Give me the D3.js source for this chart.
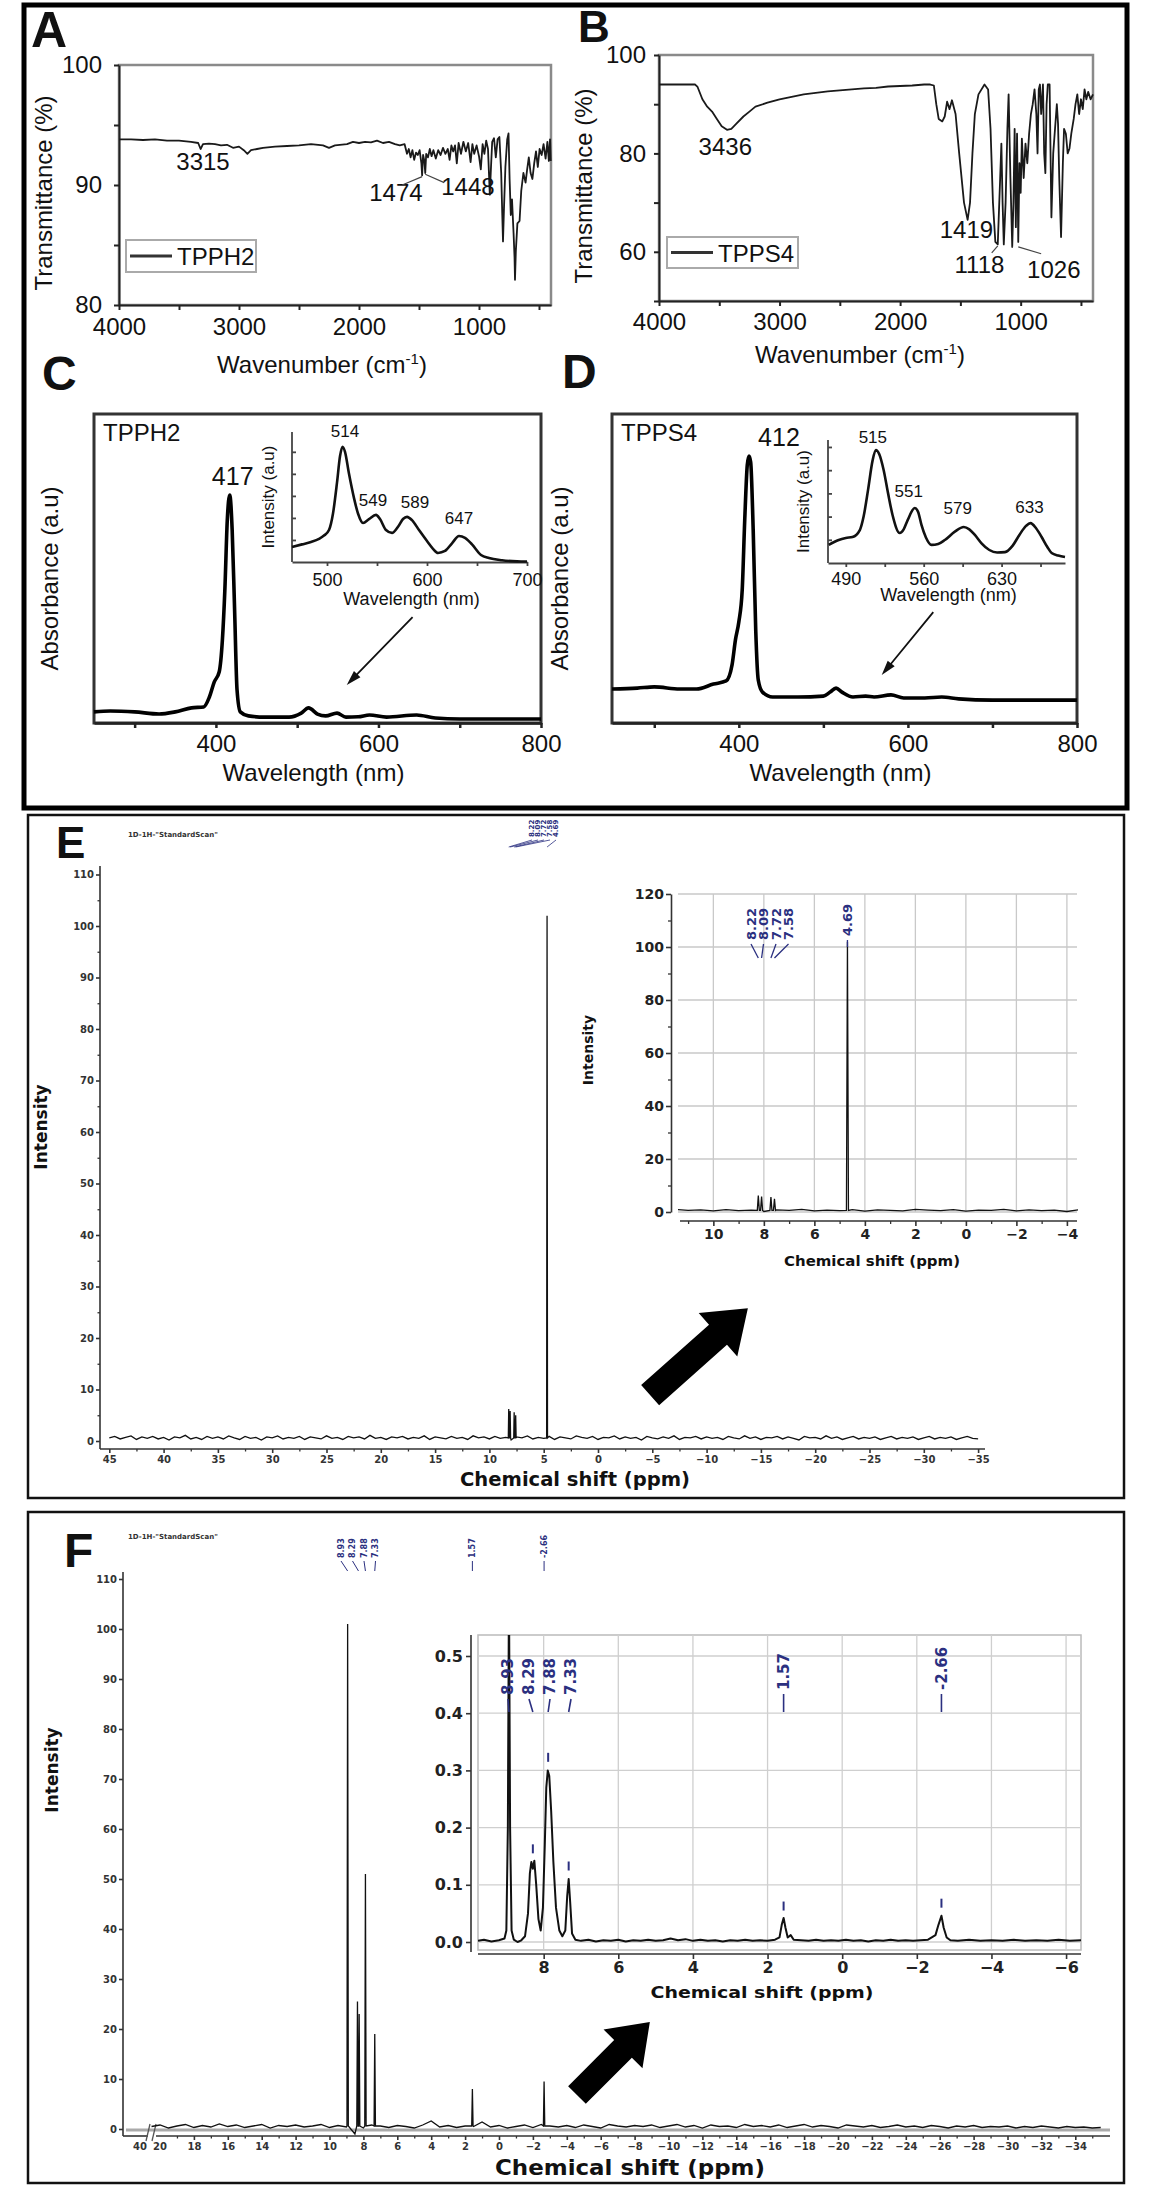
<!DOCTYPE html>
<html>
<head>
<meta charset="utf-8">
<script src="https://cdn.jsdelivr.net/npm/d3@7/dist/d3.min.js"></script>
<style>
  body { margin: 0; background: #fff; }
  svg { display: block; }
</style>
</head>
<body>
<svg id="fig" width="1149" height="2187"></svg>
<script>
// ---------- values ----------
// A: FTIR of TPPH2  [wavenumber, %T]
const irA = [
  [4000,93.8],[3900,93.8],[3800,93.75],[3700,93.8],[3600,93.7],[3500,93.7],[3400,93.6],[3340,93.5],[3320,93.0],
  [3300,93.4],[3250,93.45],[3200,93.4],[3150,93.3],[3100,93.35],[3050,93.1],[3000,93.2],[2960,92.9],[2930,92.6],
  [2900,92.9],[2850,93.0],[2800,93.1],[2700,93.2],[2600,93.25],[2500,93.3],[2400,93.4],[2300,93.3],[2250,93.1],
  [2200,93.3],[2100,93.4],[2050,93.6],[2000,93.5],[1950,93.6],[1900,93.55],[1850,93.7],[1800,93.5],[1750,93.6],
  [1700,93.4],[1660,93.3],[1620,93.4],[1600,92.6],[1585,93.0],[1570,92.3],[1555,92.9],[1540,92.1],[1525,92.7],
  [1510,92.5],[1495,92.9],[1480,91.8],[1474,90.8],[1466,92.5],[1455,92.0],[1448,91.0],[1440,92.6],[1425,92.3],
  [1410,93.0],[1395,92.4],[1380,92.9],[1360,92.2],[1340,92.9],[1320,92.5],[1300,93.1],[1280,92.6],[1260,93.0],
  [1245,92.1],[1230,93.3],[1215,92.8],[1200,93.3],[1185,91.8],[1170,93.5],[1150,92.6],[1130,93.6],[1110,92.8],
  [1090,93.5],[1070,91.9],[1055,93.4],[1040,92.6],[1020,93.3],[1000,92.4],[985,91.3],[970,93.4],[955,92.6],
  [940,93.7],[925,93.0],[910,89.2],[900,91.5],[890,93.6],[875,93.9],[860,92.3],[845,93.8],[830,94.0],[815,91.0],
  [806,87.5],[800,85.3],[792,88.0],[780,91.5],[765,93.8],[754,94.3],[745,90.5],[735,87.5],[725,88.8],[712,86.0],
  [704,84.0],[700,82.1],[693,84.5],[680,86.8],[662,87.0],[648,89.5],[630,91.0],[612,90.2],[600,91.2],[585,92.3],
  [570,91.0],[555,90.5],[540,91.8],[525,92.8],[510,91.5],[495,93.0],[478,92.5],[462,93.4],[445,92.2],[430,93.6],
  [418,92.0],[408,93.8],[402,92.0]
];
// B: FTIR of TPPS4  [wavenumber, %T]
const irB = [
  [4000,94],[3900,94],[3800,94],[3700,94],[3680,93.5],[3640,91],[3600,89.5],[3560,88.5],[3520,87],[3480,85.5],
  [3436,84.8],[3400,85],[3360,86],[3300,87.5],[3250,88.5],[3200,89.5],[3100,90.3],[3000,91],[2900,91.5],
  [2800,92],[2700,92.3],[2600,92.6],[2500,92.8],[2400,93],[2300,93.2],[2200,93.3],[2100,93.6],[2000,93.7],
  [1900,93.8],[1800,94],[1750,94],[1720,93.8],[1700,90],[1680,87],[1650,86.5],[1630,87.5],[1610,90.5],
  [1590,89],[1570,90.8],[1540,88],[1510,80],[1470,70],[1440,66.5],[1420,70],[1400,80],[1380,88],[1350,92],
  [1300,94],[1270,93],[1250,85],[1230,70],[1210,62],[1190,61.5],[1170,75],[1160,82],[1150,70],[1140,61.5],
  [1125,70],[1110,85],[1100,92],[1085,75],[1070,61],[1060,70],[1050,85],[1040,65],[1030,84],[1020,62],
  [1010,78],[1000,72],[990,83],[975,75],[960,82],[945,78],[930,84],[915,88],[900,90],[885,93],[870,88],
  [860,80],[850,93],[840,94],[830,88],[815,94],[805,80],[795,76],[785,90],[775,94],[760,94],[745,67],
  [730,80],[715,85],[700,90],[690,86],[680,75],[665,63],[650,78],[640,85],[625,84],[610,80],[595,81],
  [580,84],[560,87],[545,90],[530,92],[515,88],[500,91],[485,89],[470,93],[455,91],[440,92.5],[420,91],[400,92]
];
const irTicks = [4000,3500,3000,2500,2000,1500,1000,500];
const irTickLabels = [4000,3000,2000,1000];
const irAyTicks = [80,85,90,95,100], irAyLabels = [80,90,100];
const irByTicks = [50,60,70,80,90,100], irByLabels = [60,80,100];
const irApeaks = [["3315",3300,91.9],["1474",1692,89.3],["1448",1092,89.8]];
const irBpeaks = [["3436",3450,81.3],["1419",1450,64.5],["1118",1342,57.4],["1026",725,56.3]];

// C, D: UV-vis absorbance [nm, a.u.]
const uvC = [
  [250,0.036],[270,0.039],[300,0.036],[330,0.029],[350,0.036],[370,0.049],[385,0.052],[392,0.084],[398,0.133],
  [404,0.165],[408,0.27],[411,0.43],[414,0.657],[417,0.738],[420,0.625],[423,0.366],[426,0.107],[430,0.036],
  [440,0.023],[460,0.019],[490,0.019],[505,0.032],[514,0.049],[525,0.029],[535,0.023],[549,0.032],[560,0.019],
  [575,0.02],[589,0.026],[610,0.019],[647,0.026],[670,0.016],[700,0.013],[800,0.013]
];
const uvD = [
  [250,0.110],[280,0.113],[300,0.117],[330,0.110],[350,0.110],[370,0.126],[385,0.136],[392,0.188],[396,0.269],
  [400,0.327],[404,0.43],[407,0.657],[410,0.835],[412,0.864],[414,0.845],[417,0.625],[420,0.301],[423,0.139],
  [428,0.10],[440,0.084],[470,0.084],[500,0.087],[508,0.1],[515,0.113],[522,0.1],[535,0.084],[550,0.087],
  [560,0.084],[580,0.091],[595,0.081],[620,0.081],[640,0.084],[660,0.078],[700,0.074],[800,0.074]
];
const uvTicks = [300,400,500,600,700,800], uvTickLabels = [400,600,800];
// C, D insets: Q-band intensity [nm, a.u.]
const flC = [
  [465,0.68],[475,0.8],[484,0.91],[492,1.05],[497,1.2],[502,1.45],[506,2.2],[510,3.6],[513,4.8],[515.5,5.23],
  [518,5.0],[522,4.0],[527,2.9],[531,2.2],[536,1.77],[542,1.95],[549,2.14],[553,1.95],[559,1.45],[565,1.32],
  [571,1.6],[576,1.95],[580,2.05],[585,1.9],[592,1.45],[600,0.95],[606,0.6],[611,0.41],[618,0.5],[625,0.85],
  [632,1.18],[638,1.1],[645,0.8],[654,0.32],[662,0.18],[675,0.08],[690,0.03],[700,0.02]
];
const flD = [
  [474.7,0.78],[483,0.98],[490,1.08],[496,1.12],[502.6,1.42],[506,2.0],[510,3.15],[514,4.4],[517,4.87],
  [520,4.7],[524,4.01],[528,3.0],[532,2.07],[538.5,1.29],[542,1.45],[545.6,1.85],[552,2.37],[555,2.2],
  [558,1.64],[562,1.1],[567,0.78],[573,0.82],[579,0.99],[588,1.35],[596,1.55],[601,1.45],[606,1.21],
  [612,0.85],[619,0.56],[626,0.45],[633,0.47],[640,0.75],[646,1.21],[652,1.6],[656,1.72],[661,1.5],
  [666,1.12],[671,0.7],[675,0.43],[681,0.32],[687,0.26]
];
const flCTicks = [500,550,600,650,700], flCLabels = [500,600,700];
const flDTicks = [490,525,560,595,630,665], flDLabels = [490,560,630];
const flCYTicks = [1,2,3,4,5], flDYTicks = [1,2,3,4,5];
const flCpeaks = [["514",516,5.23],["549",550,2.14],["589",580,2.05],["647",632,1.18]];
const flDpeaks = [["515",517,4.87],["551",552,2.37],["579",596,1.55],["633",656,1.72]];

// E: 1H NMR of TPPH2 - baseline noise every 0.5 ppm from 45 ppm, and sharp peaks [ppm, intensity]
const nmrEnoise = [
  0.6,0.9,0.4,0.7,1.0,0.3,0.8,0.5,0.9,0.4, 0.7,0.2,0.8,0.6,1.1,0.4,0.7,0.3,0.9,0.5,
  0.8,0.4,1.0,0.6,0.3,0.9,0.5,0.7,0.2,0.8, 0.6,1.0,0.4,0.7,0.5,0.9,0.3,0.8,0.6,0.4,
  1.0,0.5,0.7,0.3,0.9,0.6,0.8,0.4,1.1,0.5, 0.7,0.3,0.8,0.6,0.9,0.4,0.7,0.5,1.0,0.3,
  0.8,0.6,0.4,0.9,0.5,0.7,0.3,1.0,0.6,0.8, 0.4,0.9,0.5,0.7,0.2,0.8,0.6,1.0,0.4,0.7,
  0.5,0.9,0.3,0.8,0.6,0.4,1.0,0.7,0.5,0.9, 0.3,0.7,0.6,1.0,0.4,0.8,0.5,0.7,0.2,0.9,
  0.6,0.4,0.8,0.5,1.0,0.3,0.7,0.6,0.9,0.4, 0.8,0.5,0.7,0.3,0.9,0.6,0.4,1.0,0.5,0.8,
  0.3,0.7,0.6,0.9,0.4,0.8,0.5,0.2,0.9,0.6, 0.7,0.4,1.0,0.5,0.8,0.3,0.6,0.9,0.4,0.7,
  0.5,0.8,0.3,0.6,0.9,0.4,0.7,0.5,0.8,0.3, 0.6,0.9,0.4,0.7,0.5,0.8,0.3,0.6,0.9,0.5,
  0.4
];
const nmrEpeaks = [[8.22,6.2],[8.09,5.8],[7.72,5.6],[7.58,5.0],[4.69,102]];
const eLabels = ["8.22","8.09","7.72","7.58"], eSingle = ["4.69"];
const eXLabels = [45,40,35,30,25,20,15,10,5,0,-5,-10,-15,-20,-25,-30,-35];
const eXMinor = [42.5,37.5,32.5,27.5,22.5,17.5,12.5,7.5,2.5,-2.5,-7.5,-12.5,-17.5,-22.5,-27.5,-32.5];
const eYLabels = [0,10,20,30,40,50,60,70,80,90,100,110];
const eYMinor = [5,15,25,35,45,55,65,75,85,95,105];
const eInXLabels = [10,8,6,4,2,0,-2,-4], eInXMinor = [11,9,7,5,3,1,-1,-3];
const eInYLabels = [0,20,40,60,80,100,120], eInYMinor = [10,30,50,70,90,110];

// F: 1H NMR of TPPS4 - baseline noise every 0.5 ppm from 20.5 ppm, and peaks [ppm, intensity]
const nmrFnoise = [
  0.5,0.8,0.2,0.6,0.9,0.3,0.7,0.4,1.0,0.5, 0.8,0.3,0.6,0.9,0.2,0.7,0.5,0.8,0.4,0.6,
  0.9,0.3,0.7,0.4,-1.0,0.2,0.8,0.6,0.3,0.7, 0.5,0.2,0.8,1.6,0.4,0.7,0.3,0.6,0.5,1.4,
  0.4,0.7,0.2,0.5,0.8,0.3,0.9,0.6,0.4,0.7, 0.3,0.8,0.5,0.2,0.9,0.6,0.4,0.7,0.5,0.8,
  0.3,0.6,0.9,0.4,0.7,0.2,0.8,0.5,0.6,0.3, 0.9,0.5,0.7,0.4,0.8,0.3,0.6,0.9,0.4,0.7,
  0.5,0.2,0.8,0.6,0.4,0.7,0.3,0.5,0.8,0.4, 0.6,0.3,0.7,0.5,0.2,0.6,0.4,0.7,0.3,0.5,
  0.4,0.6,0.2,0.5,0.3,0.6,0.4,0.2,0.5,0.3, 0.4,0.2,0.3
];
const nmrFpeaks = [[8.93,101],[8.35,25.5],[8.25,23],[7.88,51],[7.33,19],[1.57,8],[-2.66,9.5]];
const fLabels = ["8.93","8.29","7.88","7.33"], fSingles = [["1.57",1.57],["-2.66",-2.66]];
const fXLabels = [18,16,14,12,10,8,6,4,2,0,-2,-4,-6,-8,-10,-12,-14,-16,-18,-20,-22,-24,-26,-28,-30,-32,-34];
const fXMinor = [19,17,15,13,11,9,7,5,3,1,-1,-3,-5,-7,-9,-11,-13,-15,-17,-19,-21,-23,-25,-27,-29,-31,-33,-35];
const fYLabels = [0,10,20,30,40,50,60,70,80,90,100,110];
// F inset, normalised intensity [ppm, value]
const nmrFinset = [
  [9.76,0.002],[9.6,0.004],[9.4,0.001],[9.2,0.003],[9.05,0.006],[9.0,0.02],[8.96,0.2],[8.93,0.62],[8.90,0.2],
  [8.86,0.02],[8.8,0.004],[8.7,0.0],[8.6,0.003],[8.5,0.01],[8.42,0.05],[8.37,0.12],[8.33,0.14],[8.29,0.128],
  [8.25,0.142],[8.2,0.1],[8.14,0.04],[8.08,0.02],[8.02,0.06],[7.97,0.17],[7.93,0.27],[7.89,0.3],[7.85,0.29],
  [7.8,0.23],[7.74,0.14],[7.67,0.06],[7.58,0.02],[7.5,0.01],[7.42,0.02],[7.37,0.08],[7.33,0.11],[7.29,0.07],
  [7.24,0.015],[7.15,0.004],[7.0,0.002],[6.8,0.004],[6.6,0.001],[6.4,0.003],[6.2,0.002],[6.0,0.004],[5.8,0.001],
  [5.6,0.003],[5.4,0.002],[5.2,0.004],[5.0,0.002],[4.8,0.003],[4.6,0.006],[4.4,0.003],[4.2,0.005],[4.0,0.002],
  [3.8,0.004],[3.6,0.002],[3.4,0.003],[3.2,0.001],[3.0,0.003],[2.8,0.002],[2.6,0.004],[2.4,0.002],[2.2,0.003],
  [2.0,0.002],[1.8,0.004],[1.68,0.008],[1.62,0.03],[1.57,0.042],[1.52,0.025],[1.46,0.008],[1.38,0.012],
  [1.3,0.004],[1.1,0.003],[0.9,0.002],[0.7,0.004],[0.5,0.002],[0.3,0.003],[0.1,0.002],[-0.1,0.004],[-0.3,0.002],
  [-0.5,0.003],[-0.7,0.001],[-0.9,0.003],[-1.1,0.002],[-1.3,0.004],[-1.5,0.002],[-1.7,0.003],[-1.9,0.002],
  [-2.1,0.003],[-2.3,0.004],[-2.5,0.012],[-2.58,0.03],[-2.66,0.046],[-2.72,0.025],[-2.8,0.008],[-2.9,0.003],
  [-3.1,0.002],[-3.4,0.004],[-3.7,0.002],[-4.0,0.003],[-4.3,0.002],[-4.6,0.004],[-4.9,0.002],[-5.2,0.003],
  [-5.5,0.002],[-5.8,0.004],[-6.1,0.002],[-6.4,0.003]
];
const fInPicks = [[8.29,0.155],[7.88,0.315],[7.33,0.125],[1.57,0.055],[-2.66,0.06]];
const fInXLabels = [8,6,4,2,0,-2,-4,-6];
const fInYLabels = [0,0.1,0.2,0.3,0.4,0.5];

// ---------- drawing ----------
const svg = d3.select("#fig");
const sans = '"Liberation Sans", Arial, Helvetica, sans-serif';
const nmrFont = '"DejaVu Sans", Verdana, sans-serif';
const navy = "#2b3080";

function label(g, x, y, s, o = {}) {
  const t = g.append("text").attr("x", x).attr("y", y).text(s)
    .attr("font-size", o.size || 24)
    .attr("font-family", o.family || sans)
    .attr("text-anchor", o.anchor || "middle")
    .attr("fill", o.fill || "#111")
    .attr("font-weight", o.weight || "normal");
  if (o.rotate) t.attr("transform", `rotate(${o.rotate},${x},${y})`);
  if (o.len) t.attr("textLength", o.len).attr("lengthAdjust", "spacingAndGlyphs");
  return t;
}

function styleAxis(sel, o = {}) {
  const c = o.color || "#222";
  sel.select(".domain").attr("stroke", c).attr("stroke-width", o.width || 2);
  sel.selectAll(".tick line").attr("stroke", c).attr("stroke-width", o.width || 2);
  sel.selectAll(".tick text").attr("font-size", o.size || 24).attr("font-family", o.family || sans)
    .attr("fill", o.fill || "#111").attr("font-weight", o.weight || "normal");
}

function arrow(g, x1, y1, x2, y2, w, hw, hl, col) {
  const L = Math.hypot(x2 - x1, y2 - y1), ux = (x2 - x1) / L, uy = (y2 - y1) / L;
  const nx = -uy, ny = ux, bx = x2 - ux * hl, by = y2 - uy * hl;
  const pts = [
    [x1 + nx * w / 2, y1 + ny * w / 2], [bx + nx * w / 2, by + ny * w / 2], [bx + nx * hw / 2, by + ny * hw / 2],
    [x2, y2], [bx - nx * hw / 2, by - ny * hw / 2], [bx - nx * w / 2, by - ny * w / 2], [x1 - nx * w / 2, y1 - ny * w / 2]
  ];
  g.append("polygon").attr("points", pts.map(p => p.join(",")).join(" ")).attr("fill", col || "#000");
}

function cmLabel(g, x, y) {
  const t = g.append("text").attr("x", x).attr("y", y).attr("text-anchor", "middle")
    .attr("font-family", sans).attr("font-size", 24).attr("fill", "#111");
  t.append("tspan").text("Wavenumber (cm");
  t.append("tspan").attr("dy", -9).attr("font-size", 15).text("-1");
  t.append("tspan").attr("dy", 9).text(")");
}

// outer frames
svg.append("rect").attr("x", 24).attr("y", 5).attr("width", 1103).attr("height", 803)
  .attr("fill", "none").attr("stroke", "#000").attr("stroke-width", 5);
svg.append("rect").attr("x", 28).attr("y", 815).attr("width", 1096).attr("height", 683)
  .attr("fill", "none").attr("stroke", "#111").attr("stroke-width", 2.5);
svg.append("rect").attr("x", 28).attr("y", 1512).attr("width", 1096).attr("height", 671)
  .attr("fill", "none").attr("stroke", "#111").attr("stroke-width", 2.5);

// ---- A and B: FTIR ----
function irPanel(p) {
  const g = svg.append("g");
  const x = d3.scaleLinear().domain([4000, 400]).range([p.left, p.right]);
  const y = d3.scaleLinear().domain(p.yDomain).range([p.bottom, p.top]);
  g.append("rect").attr("x", p.left).attr("y", p.top).attr("width", p.right - p.left)
    .attr("height", p.bottom - p.top).attr("fill", "none").attr("stroke", "#8a8a8a").attr("stroke-width", 2.5);
  const xa = g.append("g").attr("transform", `translate(0,${p.bottom})`)
    .call(d3.axisBottom(x).tickValues(irTicks).tickSize(5).tickSizeOuter(0).tickPadding(p.xPad)
      .tickFormat(d => irTickLabels.includes(d) ? d : ""));
  styleAxis(xa);
  const ya = g.append("g").attr("transform", `translate(${p.left},0)`)
    .call(d3.axisLeft(y).tickValues(p.yTicks).tickSize(5).tickSizeOuter(0).tickPadding(p.yPad)
      .tickFormat(d => p.yLabels.includes(d) ? d : ""));
  styleAxis(ya);
  g.append("path").datum(p.data).attr("fill", "none").attr("stroke", "#1a1a1a").attr("stroke-width", 1.8)
    .attr("stroke-linejoin", "round")
    .attr("d", d3.line().x(d => x(d[0])).y(d => y(d[1])));
  p.peaks.forEach(([s, wn, v]) => label(g, x(wn), y(v) + 8, s, {size: 24}));
  // legend
  const [lx, ly, lw, lh] = p.legend;
  g.append("rect").attr("x", lx).attr("y", ly).attr("width", lw).attr("height", lh)
    .attr("fill", "#fff").attr("stroke", "#aaa").attr("stroke-width", 2);
  g.append("line").attr("x1", lx + 4).attr("x2", lx + 46).attr("y1", ly + lh / 2).attr("y2", ly + lh / 2)
    .attr("stroke", "#333").attr("stroke-width", 3);
  label(g, lx + 51, ly + lh / 2 + 9, p.name, {anchor: "start", size: 24});
  label(g, p.yLabelX, (p.top + p.bottom) / 2 + 8, "Transmittance (%)", {rotate: -90, size: 24});
  cmLabel(g, p.xLabelX, p.xLabelY);
  return {g, x, y};
}

const A = irPanel({left: 119, right: 551, top: 65, bottom: 305, yDomain: [80, 100], yTicks: irAyTicks,
  yLabels: irAyLabels, data: irA, peaks: irApeaks, legend: [126, 240, 130, 32], name: "TPPH2",
  yLabelX: 52, xLabelX: 322, xLabelY: 373, xPad: 8, yPad: 12});
const B = irPanel({left: 659, right: 1093, top: 55, bottom: 301, yDomain: [50, 100], yTicks: irByTicks,
  yLabels: irByLabels, data: irB, peaks: irBpeaks, legend: [667, 237, 131, 31], name: "TPPS4",
  yLabelX: 592, xLabelX: 860, xLabelY: 363, xPad: 7, yPad: 8});
// leader lines for close peaks
[[A, 1640, 90.0, 1474, 90.7], [A, 1290, 90.2, 1448, 90.9], [B, 1240, 59.8, 1190, 61.2], [B, 830, 59.6, 1020, 61.0]]
  .forEach(([P, a, b, c, d]) => P.g.append("line").attr("x1", P.x(a)).attr("y1", P.y(b)).attr("x2", P.x(c))
    .attr("y2", P.y(d)).attr("stroke", "#444").attr("stroke-width", 1.2));
label(svg, 31, 47, "A", {anchor: "start", size: 50, weight: "bold"});
label(svg, 578, 42, "B", {anchor: "start", size: 44, weight: "bold"});

// ---- C and D: UV-vis with Q-band insets ----
function uvPanel(p) {
  const g = svg.append("g");
  const x = d3.scaleLinear().domain([250, 800]).range([p.left, p.right]);
  const y = d3.scaleLinear().domain([0, 1]).range([p.bottom, p.top]);
  g.append("rect").attr("x", p.left).attr("y", p.top).attr("width", p.right - p.left)
    .attr("height", p.bottom - p.top).attr("fill", "none").attr("stroke", "#333").attr("stroke-width", 3);
  const xa = g.append("g").attr("transform", `translate(0,${p.bottom})`)
    .call(d3.axisBottom(x).tickValues(uvTicks).tickSize(5).tickSizeOuter(0).tickPadding(7)
      .tickFormat(d => uvTickLabels.includes(d) ? d : ""));
  styleAxis(xa, {width: 2.5});
  g.append("path").datum(p.data).attr("fill", "none").attr("stroke", "#000").attr("stroke-width", 3.6)
    .attr("stroke-linejoin", "round").attr("d", d3.line().curve(d3.curveMonotoneX).x(d => x(d[0])).y(d => y(d[1])));
  label(g, p.left + 9, p.top + 27, p.name, {anchor: "start", size: 24});
  label(g, x(p.soret[1]) + p.soret[2], p.soret[3], p.soret[0], {size: 25});
  label(g, p.yLabelX, (p.top + p.bottom) / 2 + 10, "Absorbance (a.u)", {rotate: -90, size: 24});
  label(g, (p.left + p.right) / 2 - 4, 781, "Wavelength (nm)", {size: 24});
  // inset
  const ix = d3.scaleLinear().domain(p.in.domain).range([p.in.left, p.in.right]);
  const iy = d3.scaleLinear().domain([0, p.in.ymax]).range([p.in.bottom, p.in.top]);
  const ia = g.append("g").attr("transform", `translate(0,${p.in.bottom})`)
    .call(d3.axisBottom(ix).tickValues(p.in.ticks).tickSize(4).tickSizeOuter(0).tickPadding(p.in.pad)
      .tickFormat(d => p.in.labels.includes(d) ? d : ""));
  styleAxis(ia, {size: 18, width: 1.8, color: "#444"});
  const iya = g.append("g").attr("transform", `translate(${p.in.left},0)`)
    .call(d3.axisRight(iy).tickValues(p.in.yticks).tickSize(4).tickSizeOuter(0).tickFormat(""));
  styleAxis(iya, {width: 1.8, color: "#444"});
  iya.select(".domain").attr("d", `M0,${p.in.bottom}V${p.in.top}`);
  g.append("path").datum(p.in.data).attr("fill", "none").attr("stroke", "#111").attr("stroke-width", 2.6)
    .attr("stroke-linejoin", "round").attr("d", d3.line().curve(d3.curveMonotoneX).x(d => ix(d[0])).y(d => iy(d[1])));
  p.in.peaks.forEach(([s, nm, v], i) => label(g, ix(nm) + p.in.off[i][0], iy(v) + p.in.off[i][1], s, {size: 17}));
  label(g, p.in.yLabelX, (p.in.top + p.in.bottom) / 2, "Intensity (a.u)", {rotate: -90, size: 17});
  label(g, (p.in.left + p.in.right) / 2 + 2, p.in.xLabelY, "Wavelength (nm)", {size: 18});
  arrow(g, x(p.arrow[0]), y(p.arrow[1]), x(p.arrow[2]), y(p.arrow[3]), 1.8, 9, 15, "#111");
  return {g, x, y};
}

uvPanel({left: 94, right: 541, top: 414, bottom: 723, data: uvC, name: "TPPH2", soret: ["417", 417, 3, 485],
  yLabelX: 58,
  in: {domain: [465, 700], left: 292, right: 527, top: 432, bottom: 562, ymax: 5.9, ticks: flCTicks,
    labels: flCLabels, yticks: flCYTicks, data: flC, peaks: flCpeaks, pad: 7, yLabelX: 274, xLabelY: 605,
    off: [[2, -10], [-4, -9], [8, -9], [0, -12]]},
  arrow: [642, 0.343, 561, 0.123]});
uvPanel({left: 612, right: 1077, top: 414, bottom: 723, data: uvD, name: "TPPS4", soret: ["412", 412, 30, 446],
  yLabelX: 568,
  in: {domain: [474, 687], left: 828, right: 1065, top: 440, bottom: 563, ymax: 5.3, ticks: flDTicks,
    labels: flDLabels, yticks: flDYTicks, data: flD, peaks: flDpeaks, pad: 5, yLabelX: 809, xLabelY: 601,
    off: [[-3, -7], [-6, -11], [-6, -13], [-1, -10]]},
  arrow: [630, 0.359, 569, 0.155]});
label(svg, 42, 390, "C", {anchor: "start", size: 48, weight: "bold"});
label(svg, 562, 388, "D", {anchor: "start", size: 48, weight: "bold"});

// ---- E and F: 1H NMR ----
function nmrSeries(noise, start, step, peaks) {
  const pts = noise.map((v, i) => [start - i * step, v]);
  peaks.forEach(([ppm, h]) => pts.push([ppm + 0.04, 0.6], [ppm, h], [ppm - 0.04, 0.6]));
  return pts.sort((a, b) => b[0] - a[0]);
}
const specE = nmrSeries(nmrEnoise, 45, 0.5, nmrEpeaks);
const specF = nmrSeries(nmrFnoise, 20.5, 0.5, nmrFpeaks);
const nmrLine = (x, y) => d3.line().x(d => x(d[0])).y(d => y(d[1]));

function nmrAxes(g, x, y, o) {
  const xa = g.append("g").attr("transform", `translate(0,${o.axisY})`)
    .call(d3.axisBottom(x).tickValues(o.xLabels).tickSize(4).tickSizeOuter(0).tickPadding(3));
  styleAxis(xa, {size: 10, family: nmrFont, weight: "bold", fill: "#333", color: "#333", width: 1.6});
  xa.select(".domain").attr("d", `M${o.x0},0H${o.x1}`);
  g.append("g").attr("transform", `translate(0,${o.axisY})`)
    .call(d3.axisBottom(x).tickValues(o.xMinor).tickSize(2.5).tickFormat(""))
    .call(s => { s.select(".domain").remove(); s.selectAll("line").attr("stroke", "#333").attr("stroke-width", 1.3); });
  const ya = g.append("g").attr("transform", `translate(${o.axisX},0)`)
    .call(d3.axisLeft(y).tickValues(o.yLabels).tickSize(4).tickSizeOuter(0).tickPadding(2));
  styleAxis(ya, {size: 10, family: nmrFont, weight: "bold", fill: "#333", color: "#333", width: 1.6});
  ya.select(".domain").attr("d", `M0,${o.y0}V${o.y1}`);
  if (o.yMinor) g.append("g").attr("transform", `translate(${o.axisX},0)`)
    .call(d3.axisLeft(y).tickValues(o.yMinor).tickSize(2.5).tickFormat(""))
    .call(s => { s.select(".domain").remove(); s.selectAll("line").attr("stroke", "#333").attr("stroke-width", 1.3); });
}

function peakLabels(g, xs, texts, ppms, o) {
  // spread multiplet labels, vertical text read bottom-to-top, with connectors to the peaks
  texts.forEach((s, i) => {
    const lx = o.x0 + i * o.gap;
    label(g, lx + o.size * 0.35, o.textY, s, {rotate: -90, anchor: "start", size: o.size, family: nmrFont,
      weight: "bold", fill: navy});
    g.append("line").attr("x1", lx).attr("x2", xs(ppms[i])).attr("y1", o.lineY0).attr("y2", o.lineY1)
      .attr("stroke", navy).attr("stroke-width", o.lw);
  });
}

// E main
const gE = svg.append("g");
const xE = d3.scaleLinear().domain([0, -35]).range([598, 978.1]);
const yE = d3.scaleLinear().domain([0, 110]).range([1441, 874.5]);
nmrAxes(gE, xE, yE, {axisY: 1449, x0: 100, x1: 985, xLabels: eXLabels, xMinor: eXMinor, axisX: 100,
  y0: 1449, y1: 866, yLabels: eYLabels, yMinor: eYMinor});
gE.append("path").datum(specE).attr("fill", "none").attr("stroke", "#111").attr("stroke-width", 1.3)
  .attr("d", nmrLine(xE, yE));
label(gE, 575, 1486, "Chemical shift (ppm)", {size: 20, family: nmrFont, weight: "bold", len: 230});
label(gE, 47, 1127, "Intensity", {rotate: -90, size: 17, family: nmrFont, weight: "bold"});
label(gE, 128, 837, "1D-1H-\"StandardScan\"", {anchor: "start", size: 7, family: nmrFont, weight: "bold", fill: "#333"});
peakLabels(gE, xE, eLabels.concat(eSingle), nmrEpeaks.map(d => d[0]), {x0: 532, gap: 6, size: 7,
  textY: 837, lineY0: 840, lineY1: 847, lw: 0.8});
arrow(gE, xE(-4.8), yE(8.9), xE(-13.8), yE(25.8), 27, 58, 40);
label(svg, 56, 858, "E", {anchor: "start", size: 44, weight: "bold"});

// E inset
const gEi = svg.append("g");
const xEi = d3.scaleLinear().domain([11.4, -4.4]).range([678, 1077]);
const yEi = d3.scaleLinear().domain([0, 120]).range([1212, 894]);
gEi.selectAll(".hg").data(eInYLabels).join("line").attr("x1", 678).attr("x2", 1077)
  .attr("y1", d => yEi(d)).attr("y2", d => yEi(d)).attr("stroke", "#c9c9c9").attr("stroke-width", 1.3);
gEi.selectAll(".vg").data(eInXLabels).join("line").attr("y1", yEi(120)).attr("y2", yEi(0))
  .attr("x1", d => xEi(d)).attr("x2", d => xEi(d)).attr("stroke", "#c9c9c9").attr("stroke-width", 1.3);
const eiX = gEi.append("g").attr("transform", "translate(0,1221)")
  .call(d3.axisBottom(xEi).tickValues(eInXLabels).tickSize(5).tickSizeOuter(0).tickPadding(3));
styleAxis(eiX, {size: 14, family: nmrFont, weight: "bold", fill: "#222", color: "#333", width: 1.6});
eiX.select(".domain").attr("d", "M680,0H1077");
gEi.append("g").attr("transform", "translate(0,1221)")
  .call(d3.axisBottom(xEi).tickValues(eInXMinor).tickSize(3).tickFormat(""))
  .call(s => { s.select(".domain").remove(); s.selectAll("line").attr("stroke", "#333").attr("stroke-width", 1.3); });
const eiY = gEi.append("g").attr("transform", "translate(671,0)")
  .call(d3.axisLeft(yEi).tickValues(eInYLabels).tickSize(5).tickSizeOuter(0).tickPadding(2));
styleAxis(eiY, {size: 14, family: nmrFont, weight: "bold", fill: "#222", color: "#333", width: 1.6});
gEi.append("g").attr("transform", "translate(671,0)")
  .call(d3.axisLeft(yEi).tickValues(eInYMinor).tickSize(3).tickFormat(""))
  .call(s => { s.select(".domain").remove(); s.selectAll("line").attr("stroke", "#333").attr("stroke-width", 1.3); });
svg.append("clipPath").attr("id", "clipEi").append("rect").attr("x", 678).attr("y", 885).attr("width", 400).attr("height", 335);
gEi.append("path").datum(specE).attr("clip-path", "url(#clipEi)").attr("fill", "none").attr("stroke", "#111")
  .attr("stroke-width", 1.3).attr("d", nmrLine(xEi, yEi));
peakLabels(gEi, xEi, eLabels, nmrEpeaks.slice(0, 4).map(d => d[0]), {x0: 751, gap: 12.5, size: 13,
  textY: 940, lineY0: 944, lineY1: 958, lw: 1.3});
peakLabels(gEi, xEi, eSingle, [4.69], {x0: xEi(4.69), gap: 0, size: 13, textY: 936, lineY0: 940, lineY1: 947, lw: 1.3});
label(gEi, 872, 1266, "Chemical shift (ppm)", {size: 14, family: nmrFont, weight: "bold", len: 176});
label(gEi, 593, 1050, "Intensity", {rotate: -90, size: 14, family: nmrFont, weight: "bold"});

// F main
const gF = svg.append("g");
const xF = d3.scaleLinear().domain([0, -34]).range([499, 1075.3]);
const yF = d3.scaleLinear().domain([0, 110]).range([2129, 1579]);
nmrAxes(gF, xF, yF, {axisY: 2136, x0: 156, x1: 1110, xLabels: fXLabels, xMinor: fXMinor, axisX: 123,
  y0: 2136, y1: 1572, yLabels: fYLabels});
gF.append("line").attr("x1", 126).attr("x2", 1110).attr("y1", 2130).attr("y2", 2130).attr("stroke", "#aaa").attr("stroke-width", 3);
gF.append("line").attr("x1", 123).attr("x2", 148).attr("y1", 2136).attr("y2", 2136).attr("stroke", "#333").attr("stroke-width", 1.6);
[148, 154].forEach(bx => gF.append("line").attr("x1", bx - 2).attr("x2", bx + 2).attr("y1", 2141).attr("y2", 2124)
  .attr("stroke", "#555").attr("stroke-width", 1.3));
label(gF, 140, 2150, "40", {size: 10, family: nmrFont, weight: "bold", fill: "#333"});
label(gF, xF(20), 2150, "20", {size: 10, family: nmrFont, weight: "bold", fill: "#333"});
gF.append("path").datum(specF).attr("fill", "none").attr("stroke", "#111").attr("stroke-width", 1.3)
  .attr("d", nmrLine(xF, yF));
label(gF, 630, 2175, "Chemical shift (ppm)", {size: 22, family: nmrFont, weight: "bold", len: 270});
label(gF, 58, 1770, "Intensity", {rotate: -90, size: 17, family: nmrFont, weight: "bold"});
label(gF, 128, 1539, "1D-1H-\"StandardScan\"", {anchor: "start", size: 7, family: nmrFont, weight: "bold", fill: "#333"});
peakLabels(gF, xF, fLabels, [8.93, 8.29, 7.88, 7.33], {x0: 341, gap: 11.5, size: 8, textY: 1558, lineY0: 1561, lineY1: 1571, lw: 1});
fSingles.forEach(([s, p]) => peakLabels(gF, xF, [s], [p], {x0: xF(p), gap: 0, size: 8, textY: 1558, lineY0: 1561, lineY1: 1571, lw: 1}));
arrow(gF, xF(-4.6), yF(6.8), xF(-8.9), yF(21.4), 25, 55, 38);
label(svg, 64, 1567, "F", {anchor: "start", size: 48, weight: "bold"});

// F inset
const gFi = svg.append("g");
const xFi = d3.scaleLinear().domain([9.76, -6.4]).range([478, 1081]);
const yFi = d3.scaleLinear().domain([0, 0.5]).range([1942, 1656]);
gFi.append("rect").attr("x", 478).attr("y", 1635).attr("width", 603).attr("height", 315)
  .attr("fill", "none").attr("stroke", "#bbb").attr("stroke-width", 1.5);
gFi.selectAll(".hg").data(fInYLabels).join("line").attr("x1", 478).attr("x2", 1081)
  .attr("y1", d => yFi(d)).attr("y2", d => yFi(d)).attr("stroke", "#cfcfcf").attr("stroke-width", 1.3);
gFi.selectAll(".vg").data(fInXLabels).join("line").attr("y1", 1635).attr("y2", 1950)
  .attr("x1", d => xFi(d)).attr("x2", d => xFi(d)).attr("stroke", "#cfcfcf").attr("stroke-width", 1.3);
const fiX = gFi.append("g").attr("transform", "translate(0,1954)")
  .call(d3.axisBottom(xFi).tickValues(fInXLabels).tickSize(5).tickSizeOuter(0).tickPadding(3));
styleAxis(fiX, {size: 16, family: nmrFont, weight: "bold", fill: "#222", color: "#333", width: 1.6});
fiX.select(".domain").attr("d", "M478,0H1081");
const fiY = gFi.append("g").attr("transform", "translate(471,0)")
  .call(d3.axisLeft(yFi).tickValues(fInYLabels).tickSize(5).tickSizeOuter(0).tickPadding(3).tickFormat(d3.format(".1f")));
styleAxis(fiY, {size: 16, family: nmrFont, weight: "bold", fill: "#222", color: "#333", width: 1.6});
fiY.select(".domain").attr("d", "M0,1952V1635");
svg.append("clipPath").attr("id", "clipFi").append("rect").attr("x", 478).attr("y", 1635).attr("width", 603).attr("height", 318);
gFi.append("path").datum(nmrFinset).attr("clip-path", "url(#clipFi)").attr("fill", "none").attr("stroke", "#111")
  .attr("stroke-width", 2).attr("stroke-linejoin", "round").attr("d", nmrLine(xFi, yFi));
gFi.selectAll(".pick").data(fInPicks).join("line").attr("x1", d => xFi(d[0])).attr("x2", d => xFi(d[0]))
  .attr("y1", d => yFi(d[1])).attr("y2", d => yFi(d[1]) - 9).attr("stroke", navy).attr("stroke-width", 2);
peakLabels(gFi, xFi, fLabels, [8.93, 8.29, 7.88, 7.33], {x0: 508, gap: 21, size: 15, textY: 1695, lineY0: 1699, lineY1: 1712, lw: 1.6});
fSingles.forEach(([s, p]) => peakLabels(gFi, xFi, [s], [p], {x0: xFi(p), gap: 0, size: 15, textY: 1690, lineY0: 1694, lineY1: 1712, lw: 1.6}));
label(gFi, 762, 1998, "Chemical shift (ppm)", {size: 16, family: nmrFont, weight: "bold", len: 223});
</script>
</body>
</html>
